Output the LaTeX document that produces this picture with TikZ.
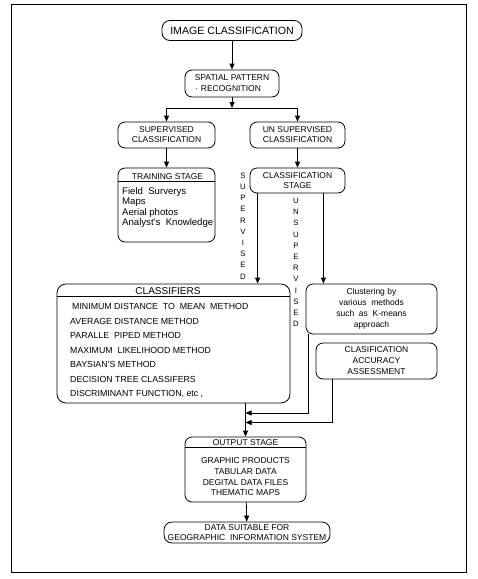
\documentclass[tikz,border=0pt]{standalone}
\usepackage{fontspec}
\setmainfont{Liberation Sans}
\usetikzlibrary{arrows.meta}
\tikzset{
  box/.style={draw, line width=0.8pt, rounded corners=7pt, align=center, inner sep=0pt, font=\fontsize{8.5}{11}\selectfont},
  arr/.style={line width=0.8pt, -{Triangle[length=6pt,width=5pt]}},
  ln/.style={line width=0.8pt},
  vlet/.style={align=center, inner sep=0pt, font=\fontsize{7.8}{11.2}\selectfont},
}
\begin{document}
\begin{tikzpicture}[x=1pt,y=-1pt]
\useasboundingbox (0,0) rectangle (478,579);
\draw[line width=1pt] (11,4) rectangle (466,572);

\node[box, minimum width=140pt, minimum height=20pt, rounded corners=8pt, font=\fontsize{10.6}{12}\selectfont] (ic) at (232,30.5) {IMAGE CLASSIFICATION};
\node[box, minimum width=94pt, minimum height=27pt] (spr) at (232,83.5) {SPATIAL PATTERN\\\hspace*{-8pt}·\hspace{3pt}RECOGNITION};
\node[box, minimum width=97pt, minimum height=26pt] (sc) at (166.5,135) {SUPERVISED\\[-1pt]CLASSIFICATION};
\node[box, minimum width=95pt, minimum height=26pt] (uc) at (297.5,135) {UN SUPERVISED\\[-1pt]CLASSIFICATION};

\node[box, minimum width=97pt, minimum height=74pt] (ts) at (166.5,205) {};
\draw[ln] ([yshift=-14pt]ts.north west) -- ([yshift=-14pt]ts.north east);
\node[font=\fontsize{8.5}{11}\selectfont, inner sep=0pt] (tsh) at (167.5,176.5) {TRAINING STAGE};
\node[anchor=north west, align=left, inner sep=0pt, font=\fontsize{9.6}{10.6}\selectfont] (tsi) at (122,187) {Field\ \ Surverys\\Maps\\Aerial photos\\Analyst's\ \ Knowledge};

\node[box, minimum width=95pt, minimum height=25pt] (cs) at (297.5,180.5) {CLASSIFICATION\\[-1pt]STAGE};

\node[vlet] (sv) at (243,226) {S\\U\\P\\E\\R\\V\\I\\S\\E\\D};
\node[vlet] (usv) at (296,262.5) {U\\N\\S\\U\\P\\E\\R\\V\\I\\S\\E\\D};

\node[box, minimum width=233pt, minimum height=119pt, rounded corners=9pt] (cl) at (173.5,343.5) {};
\draw[ln] ([yshift=-13pt]cl.north west) -- ([yshift=-13pt]cl.north east);
\node[font=\fontsize{10}{12}\selectfont, inner sep=0pt] (clh) at (168,291) {CLASSIFIERS};
\node[anchor=north west, align=left, inner sep=0pt, font=\fontsize{8.8}{14.5}\selectfont] (cli) at (70,303.5) {\hspace*{2pt}MINIMUM DISTANCE\ \ TO\ \ MEAN\ \ METHOD\\AVERAGE DISTANCE METHOD\\PARALLE\ \ PIPED METHOD\\MAXIMUM\ \ LIKELIHOOD METHOD\\BAYSIAN'S METHOD\\DECISION TREE CLASSIFERS\\DISCRIMINANT FUNCTION, etc ,};

\node[box, minimum width=131pt, minimum height=50pt, font=\fontsize{8.5}{11}\selectfont] (clu) at (371.5,309) {Clustering by\\various\ \ methods\\such\ \ as\ \ K-means\\approach};
\node[box, minimum width=121pt, minimum height=36pt] (acc) at (376.5,361) {CLASIFICATION\\ACCURACY\\ASSESSMENT};

\node[box, minimum width=121pt, minimum height=65pt] (os) at (245.5,469.5) {};
\draw[ln] ([yshift=-11pt]os.north west) -- ([yshift=-11pt]os.north east);
\node[font=\fontsize{8.5}{11}\selectfont, inner sep=0pt] (osh) at (245.5,442.5) {OUTPUT STAGE};
\node[align=center, inner sep=0pt, font=\fontsize{8.5}{10.7}\selectfont] (osi) at (245.5,477) {GRAPHIC PRODUCTS\\TABULAR DATA\\DEGITAL DATA FILES\\THEMATIC MAPS};

\node[box, minimum width=166pt, minimum height=21pt, rounded corners=8pt] (ds) at (247,532.5) {DATA SUITABLE FOR\\[-1.5pt]GEOGRAPHIC\ \ INFORMATION SYSTEM};

\coordinate (j) at (232,108);
\coordinate (m1) at (245.5,413);
\coordinate (m2) at (245.5,422.5);

\draw[arr] (ic) -- (spr);
\draw[arr] (spr) -- (j);
\draw[arr] (j) -| (sc);
\draw[arr] (j) -| (uc);
\draw[arr] (sc) -- (ts);
\draw[arr] (uc) -- (cs);
\draw[arr] ([xshift=8pt]cs.south west) -- ([xshift=8pt]cs.south west |- cl.north);
\draw[arr] ([xshift=-22pt]cs.south east) -- ([xshift=-22pt]cs.south east |- clu.north);
\draw[arr] ([xshift=3pt]clu.south west) |- (m1);
\draw[arr] ([xshift=17pt]acc.south west) |- (m2);
\draw[arr] (os.north |- cl.south) -- (os.north);
\draw[arr] (os) -- (ds);
\end{tikzpicture}
\end{document}
